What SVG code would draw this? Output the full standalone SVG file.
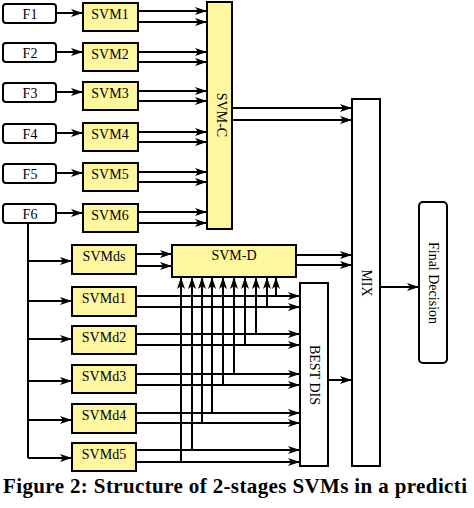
<svg xmlns="http://www.w3.org/2000/svg" width="474" height="508" viewBox="0 0 474 508">
<style>
.bx{fill:#fff;stroke:#000;stroke-width:2}
.yb{fill:#fff7a0;stroke:#000;stroke-width:2}
.t{font-family:"Liberation Serif","Times New Roman",serif;font-size:14px;fill:#000;text-anchor:middle}
.ln{fill:none;stroke:#000;stroke-width:2}
.ar{fill:none;stroke:#000;stroke-width:2;marker-end:url(#ah)}
.cap{font-family:"Liberation Serif","Times New Roman",serif;font-size:21px;font-weight:bold;fill:#000}
</style>
<defs>
<marker id="ah" viewBox="0 0 12 8" refX="12" refY="4" markerWidth="12" markerHeight="8" markerUnits="userSpaceOnUse" orient="auto">
<path d="M0,0 L12,4 L0,8 L3,4 z" fill="#000"/>
</marker>
</defs>
<rect width="474" height="508" fill="#fff"/>
<g id="F1"><rect class="bx" x="3" y="4" width="53" height="19" rx="3"/><text class="t" x="30" y="19">F1</text></g>
<g id="F2"><rect class="bx" x="3" y="43" width="53" height="19" rx="3"/><text class="t" x="30" y="58">F2</text></g>
<g id="F3"><rect class="bx" x="3" y="83" width="53" height="19" rx="3"/><text class="t" x="30" y="98">F3</text></g>
<g id="F4"><rect class="bx" x="3" y="124" width="53" height="19" rx="3"/><text class="t" x="30" y="139">F4</text></g>
<g id="F5"><rect class="bx" x="3" y="164" width="53" height="19" rx="3"/><text class="t" x="30" y="179">F5</text></g>
<g id="F6"><rect class="bx" x="3" y="204" width="53" height="19" rx="3"/><text class="t" x="30" y="219">F6</text></g>
<g id="SVM1"><rect class="yb" x="83" y="3" width="55" height="28"/><text class="t" x="110" y="19">SVM1</text></g>
<g id="SVM2"><rect class="yb" x="83" y="43" width="55" height="28"/><text class="t" x="110" y="59">SVM2</text></g>
<g id="SVM3"><rect class="yb" x="83" y="82" width="55" height="28"/><text class="t" x="110" y="98">SVM3</text></g>
<g id="SVM4"><rect class="yb" x="83" y="123" width="55" height="28"/><text class="t" x="110" y="139">SVM4</text></g>
<g id="SVM5"><rect class="yb" x="83" y="163" width="55" height="28"/><text class="t" x="110" y="179">SVM5</text></g>
<g id="SVM6"><rect class="yb" x="83" y="204" width="55" height="28"/><text class="t" x="110" y="220">SVM6</text></g>
<g id="SVM-C"><rect class="yb" x="207" y="2" width="25" height="227"/><text class="t" transform="translate(217,115) rotate(90)">SVM-C</text></g>
<g id="SVMds"><rect class="yb" x="72" y="245" width="64" height="29"/><text class="t" x="104" y="261">SVMds</text></g>
<g id="SVMd1"><rect class="yb" x="72" y="287" width="64" height="29"/><text class="t" x="104" y="303">SVMd1</text></g>
<g id="SVMd2"><rect class="yb" x="72" y="326" width="64" height="28"/><text class="t" x="104" y="342">SVMd2</text></g>
<g id="SVMd3"><rect class="yb" x="72" y="365" width="64" height="28"/><text class="t" x="104" y="381">SVMd3</text></g>
<g id="SVMd4"><rect class="yb" x="72" y="404" width="64" height="29"/><text class="t" x="104" y="420">SVMd4</text></g>
<g id="SVMd5"><rect class="yb" x="72" y="443" width="64" height="28"/><text class="t" x="104" y="459">SVMd5</text></g>
<g id="SVM-D"><rect class="yb" x="172" y="245" width="124" height="32"/><text class="t" x="234" y="260">SVM-D</text></g>
<g id="BEST-DIS"><rect class="bx" x="300" y="283" width="28" height="183"/><text class="t" transform="translate(310,375) rotate(90)">BEST DIS</text></g>
<g id="MIX"><rect class="bx" x="352" y="99" width="28" height="367"/><text class="t" transform="translate(362,283) rotate(90)">MIX</text></g>
<g id="Final"><rect class="bx" x="419" y="202" width="28" height="161" rx="4"/><text class="t" transform="translate(429,283) rotate(90)">Final Decision</text></g>
<g id="connectors">
<path class="ar" d="M56,13H83"/><path class="ar" d="M56,52H83"/><path class="ar" d="M56,92H83"/>
<path class="ar" d="M56,133H83"/><path class="ar" d="M56,173H83"/><path class="ar" d="M56,213H83"/>
<path class="ar" d="M138,11H207"/><path class="ar" d="M138,22H207"/>
<path class="ar" d="M138,52H207"/><path class="ar" d="M138,62H207"/>
<path class="ar" d="M138,91H207"/><path class="ar" d="M138,101H207"/>
<path class="ar" d="M138,132H207"/><path class="ar" d="M138,142H207"/>
<path class="ar" d="M138,172H207"/><path class="ar" d="M138,182H207"/>
<path class="ar" d="M138,212H207"/><path class="ar" d="M138,223H207"/>
<path class="ln" d="M28,223V458"/>
<path class="ar" d="M28,261H72"/><path class="ar" d="M28,301H72"/><path class="ar" d="M28,339H72"/>
<path class="ar" d="M28,381H72"/><path class="ar" d="M28,420H72"/><path class="ar" d="M28,458H72"/>
<path class="ar" d="M136,254H172"/><path class="ar" d="M136,266H172"/>
<path class="ar" d="M136,296H300"/><path class="ar" d="M136,307H300"/>
<path class="ar" d="M136,334H300"/><path class="ar" d="M136,345H300"/>
<path class="ar" d="M136,374H300"/><path class="ar" d="M136,385H300"/>
<path class="ar" d="M136,413H300"/><path class="ar" d="M136,423H300"/>
<path class="ar" d="M136,450H300"/><path class="ar" d="M136,462H300"/>
<path class="ar" d="M276,296V277"/><path class="ar" d="M267,307V277"/>
<path class="ar" d="M256,334V277"/><path class="ar" d="M245,345V277"/>
<path class="ar" d="M234,374V277"/><path class="ar" d="M223,385V277"/>
<path class="ar" d="M212,413V277"/><path class="ar" d="M202,423V277"/>
<path class="ar" d="M192,450V277"/><path class="ar" d="M181,462V277"/>
<path class="ar" d="M232,108H352"/><path class="ar" d="M232,120H352"/>
<path class="ar" d="M296,255H352"/><path class="ar" d="M296,265H352"/>
<path class="ar" d="M328,380H352"/>
<path class="ar" d="M380,287H419"/>
</g>
<text class="cap" x="3" y="493" textLength="464" lengthAdjust="spacing">Figure 2: Structure of 2-stages SVMs in a predicti</text>
</svg>
